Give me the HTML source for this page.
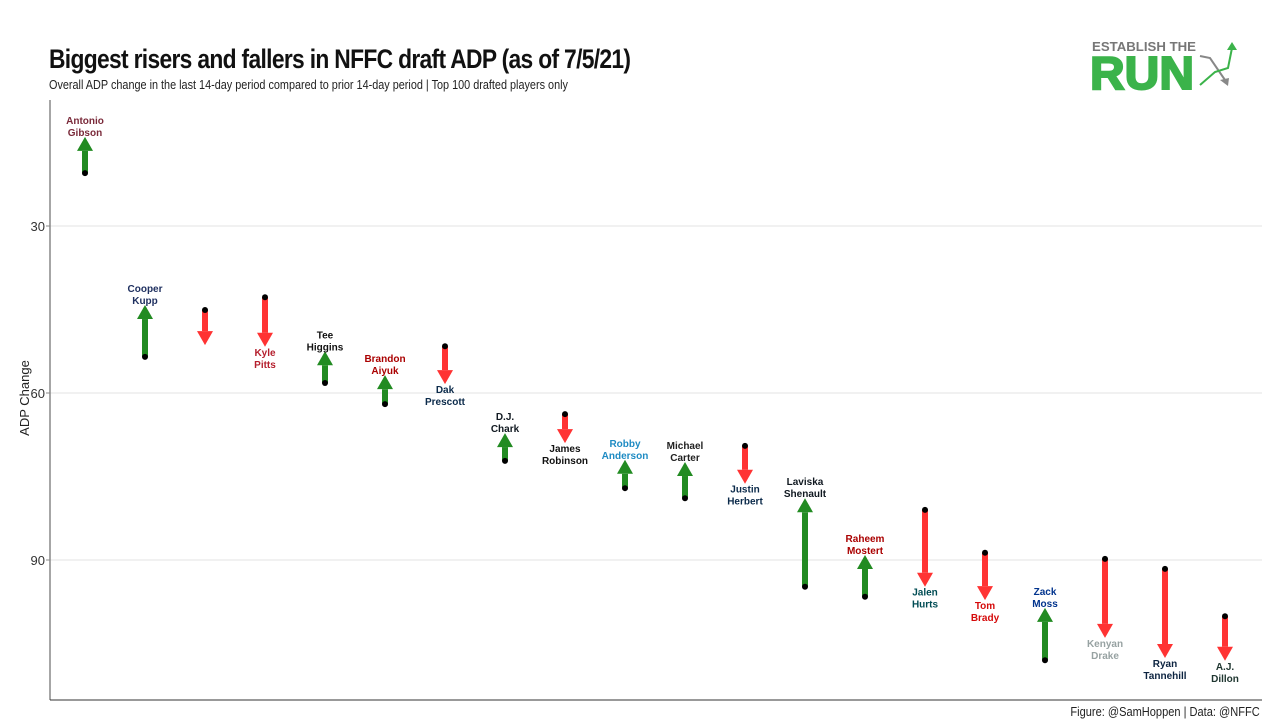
<!DOCTYPE html>
<html><head><meta charset="utf-8"><style>
body{margin:0;background:#fff;width:1280px;height:720px;overflow:hidden;font-family:"Liberation Sans",sans-serif}
#title{position:absolute;left:49px;top:44px;font-size:27px;font-weight:bold;font-family:"Liberation Sans Narrow","Liberation Sans",sans-serif;letter-spacing:-0.8px;transform:scaleX(0.845);transform-origin:left;color:#111}
#sub{position:absolute;left:49px;top:77px;font-size:13px;font-family:"Liberation Sans Narrow","Liberation Sans",sans-serif;transform:scaleX(0.835);transform-origin:left;color:#222}
#cap{position:absolute;right:20px;top:704px;font-size:13px;transform:scaleX(0.85);transform-origin:right;color:#222}
svg{position:absolute;left:0;top:0}
</style></head><body>
<div id="title">Biggest risers and fallers in NFFC draft ADP (as of 7/5/21)</div>
<div id="sub">Overall ADP change in the last 14-day period compared to prior 14-day period | Top 100 drafted players only</div>
<div id="cap">Figure: @SamHoppen | Data: @NFFC</div>
<svg id="chart" width="1280" height="720">
<g>
<text x="1092" y="51" font-size="13" font-weight="bold" fill="#777" font-family="Liberation Sans" textLength="104" lengthAdjust="spacingAndGlyphs">ESTABLISH THE</text>
<text x="1090" y="89" font-size="46" font-weight="bold" fill="#3bb34a" font-family="Liberation Sans" textLength="104" lengthAdjust="spacingAndGlyphs" stroke="#3bb34a" stroke-width="2">RUN</text>
<polyline points="1200,56 1210,58 1225,80" fill="none" stroke="#888" stroke-width="2"/>
<polyline points="1200,85 1215,72 1228,68 1232,48" fill="none" stroke="#3bb34a" stroke-width="2"/>
<polygon points="1227,50 1232,42 1237,50" fill="#3bb34a"/>
<polygon points="1220,80 1228,86 1229,78" fill="#888"/>
</g>
</svg>
<script>
const players=["Antonio\nGibson","Cooper\nKupp","","Kyle\nPitts","Tee\nHiggins","Brandon\nAiyuk","Dak\nPrescott","D.J.\nChark","James\nRobinson","Robby\nAnderson","Michael\nCarter","Justin\nHerbert","Laviska\nShenault","Raheem\nMostert","Jalen\nHurts","Tom\nBrady","Zack\nMoss","Kenyan\nDrake","Ryan\nTannehill","A.J.\nDillon"];
const prevADP=[20.5,53.5,45.1,42.8,58.2,62.0,51.6,72.2,63.8,77.1,78.9,69.5,94.8,96.6,81.0,88.7,108.0,89.8,91.6,100.1];
const currADP=[14.0,44.2,51.4,51.7,52.5,56.8,58.4,67.2,69.0,72.0,72.4,76.3,78.9,89.1,94.8,97.2,98.6,104.0,107.6,108.1];
const labelColors=["#7a2a3a","#1f3060","#b5202e","#b5202e","#111","#aa0000","#0b2a4a","#101820","#111","#1e8bc3","#222","#0b2a4a","#101820","#aa0000","#004c54","#d50a0a","#00338d","#97a2a2","#0c2340","#203731"];
const yTicks=[30,60,90];
const NS="http://www.w3.org/2000/svg";
const svg=document.getElementById('chart');
const X0=50,X1=1262,Ytop=100,Ybot=700;
const y=v=>226+(v-30)*167/30;
const x=i=>85+i*60;
function mk(t,a){const e=document.createElementNS(NS,t);for(const k in a)e.setAttribute(k,a[k]);svg.appendChild(e);return e;}
yTicks.forEach(t=>{
 const g=mk('line',{x1:X0,x2:X1,y1:y(t),y2:y(t),stroke:'#e3e3e3','stroke-width':1});
 
 
 const tk=mk('line',{x1:X0-4,x2:X0,y1:y(t),y2:y(t),stroke:'#888'});
 
 
 const l=mk('text',{x:X0-5,y:y(t)+5,'text-anchor':'end','font-size':13,fill:'#333'});l.textContent=t;
 
 
});
const ax=mk('line',{x1:X0,x2:X0,y1:Ytop,y2:Ybot,stroke:'#888','stroke-width':1.5});


const bx=mk('line',{x1:X0,x2:X1,y1:Ybot,y2:Ybot,stroke:'#333','stroke-width':1});


const yt=mk('text',{x:29,y:398,'text-anchor':'middle','font-size':13,fill:'#222',transform:'rotate(-90 29 398)'});yt.textContent='ADP Change';


players.forEach((p,i)=>{
 const cx=x(i),y0=y(prevADP[i]),y1=y(currADP[i]);const up=y1<y0;const col=up?'#228b22':'#ff3333';
 const d=up?-1:1;const hb=y1-d*14;
 const sh=mk('line',{x1:cx,x2:cx,y1:y0,y2:hb,stroke:col,'stroke-width':6});
 
 
 const hd=mk('polygon',{points:`${cx-8},${hb} ${cx+8},${hb} ${cx},${y1}`,fill:col});
 
 
 const dt=mk('circle',{cx:cx,cy:y0,r:3,fill:'#000'});
 
 
 if(p){const lines=p.split('\n');
  const t=mk('text',{x:cx,'text-anchor':'middle','font-size':10,'font-weight':'bold',fill:labelColors[i]});
  
  
  const base=up?y1-13:y1+9;
  lines.forEach((s,j)=>{const ts=document.createElementNS(NS,'tspan');ts.setAttribute('x',cx);ts.setAttribute('y',base+j*12);ts.textContent=s;t.appendChild(ts);});
 }
});
</script>
</body></html>
